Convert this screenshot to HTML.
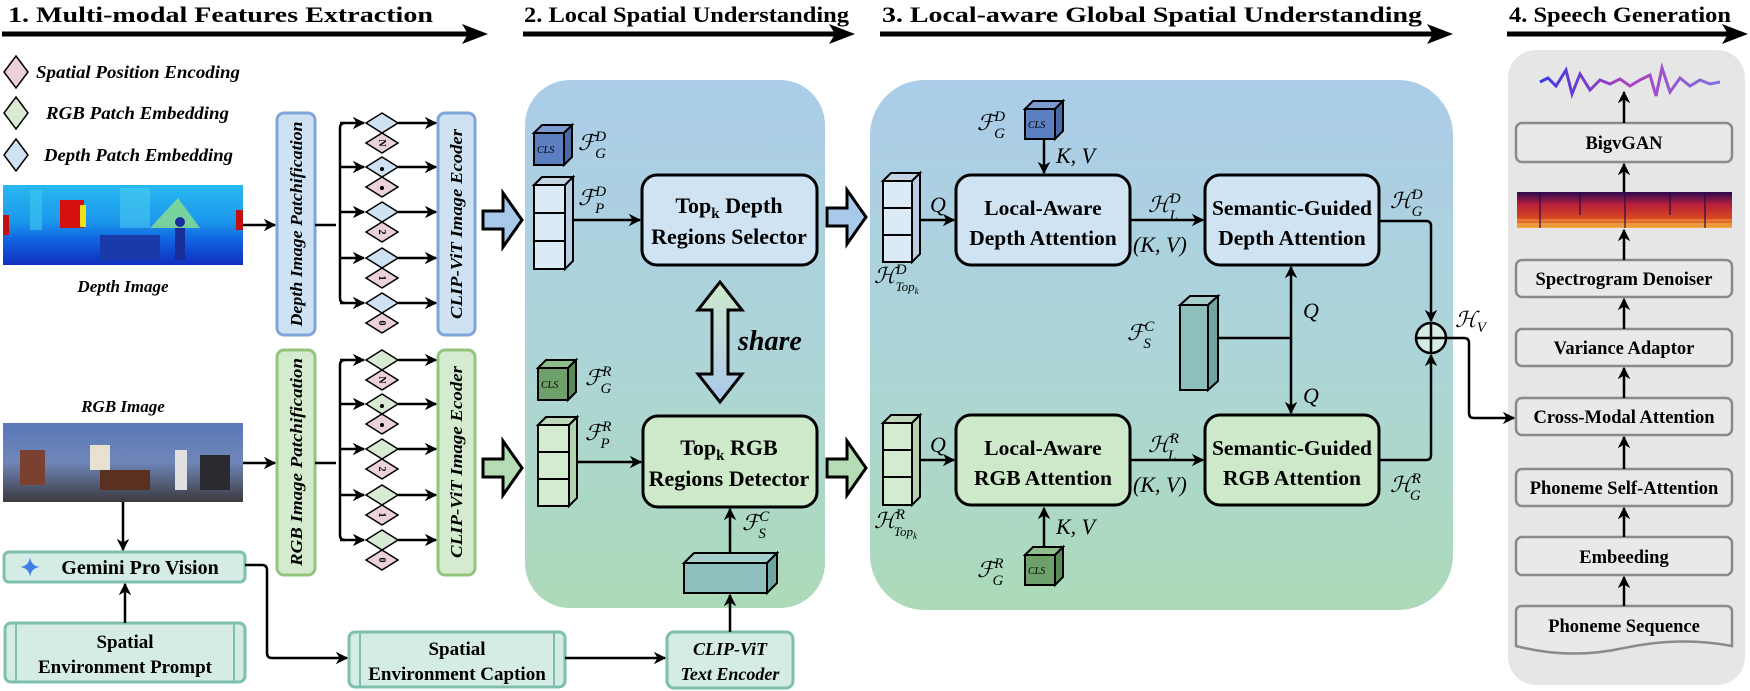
<!DOCTYPE html>
<html><head><meta charset="utf-8"><style>
html,body{margin:0;padding:0;background:#fff;}
svg{display:block;}
text{font-family:"Liberation Serif","DejaVu Serif",serif;}
.b{font-weight:bold;}
.m{font-style:italic;font-size:22px;}
</style></head><body>
<svg width="1750" height="691" viewBox="0 0 1750 691" xmlns="http://www.w3.org/2000/svg">
<defs>
<marker id="a" viewBox="0 0 10 10" refX="9" refY="5" markerWidth="5" markerHeight="5" orient="auto-start-reverse" markerUnits="strokeWidth"><path d="M0,0 L10,5 L0,10 L3,5 z" fill="#000"/></marker>
<linearGradient id="pg" x1="0" y1="0" x2="0" y2="1"><stop offset="0" stop-color="#abcde9"/><stop offset="0.55" stop-color="#add5d6"/><stop offset="1" stop-color="#acdab8"/></linearGradient>
<linearGradient id="sh" x1="0" y1="0" x2="0" y2="1"><stop offset="0" stop-color="#cfe9cc"/><stop offset="1" stop-color="#a9c9ea"/></linearGradient>
<linearGradient id="dep" x1="0" y1="0" x2="0" y2="1"><stop offset="0" stop-color="#28b8f0"/><stop offset="0.45" stop-color="#1c98ec"/><stop offset="0.7" stop-color="#1060e0"/><stop offset="1" stop-color="#1030c0"/></linearGradient>
<linearGradient id="rgb" x1="0" y1="0" x2="0" y2="1"><stop offset="0" stop-color="#5a78b8"/><stop offset="0.5" stop-color="#6f86b8"/><stop offset="1" stop-color="#3b3a3e"/></linearGradient>
<linearGradient id="spec" x1="0" y1="0" x2="0" y2="1"><stop offset="0" stop-color="#2a0a50"/><stop offset="0.35" stop-color="#b8203a"/><stop offset="0.75" stop-color="#d84a20"/><stop offset="1" stop-color="#f3b040"/></linearGradient>
<linearGradient id="wav" x1="0" y1="0" x2="1" y2="0"><stop offset="0" stop-color="#3a3ae0"/><stop offset="0.5" stop-color="#b040c0"/><stop offset="1" stop-color="#7a70e0"/></linearGradient>
</defs>

<!-- Panels (background) -->
<rect x="525" y="80" width="300" height="528" rx="45" fill="url(#pg)"/>
<rect x="870" y="80" width="583" height="530" rx="55" fill="url(#pg)"/>
<rect x="1508" y="50" width="237" height="635" rx="28" fill="#e6e6e6"/>

<!-- Headers -->
<g font-size="22" font-weight="bold">
<text x="8" y="22" textLength="425" lengthAdjust="spacingAndGlyphs">1. Multi-modal Features Extraction</text>
<text x="524" y="22" textLength="325" lengthAdjust="spacingAndGlyphs">2. Local Spatial Understanding</text>
<text x="882" y="22" textLength="540" lengthAdjust="spacingAndGlyphs">3. Local-aware Global Spatial Understanding</text>
<text x="1509" y="22" textLength="222" lengthAdjust="spacingAndGlyphs">4. Speech Generation</text>
</g>
<g stroke="#000" stroke-width="5" fill="none">
<line x1="2" y1="34" x2="470" y2="34"/><line x1="523" y1="34" x2="838" y2="34"/><line x1="880" y1="34" x2="1437" y2="34"/><line x1="1507" y1="34" x2="1732" y2="34"/>
</g>
<g fill="#000">
<path d="M488,34 L462,24 L468,34 L462,44z"/><path d="M855,34 L829,24 L835,34 L829,44z"/><path d="M1453,34 L1427,24 L1433,34 L1427,44z"/><path d="M1748,34 L1722,24 L1728,34 L1722,44z"/>
</g>

<!-- Legend -->
<g stroke="#000" stroke-width="1.5">
<path d="M16,56 L28,72 L16,88 L4,72z" fill="#ead1dc"/>
<path d="M16,97 L28,113 L16,129 L4,113z" fill="#d9ead3"/>
<path d="M16,139 L28,155 L16,171 L4,155z" fill="#cfe2f3"/>
</g>
<g font-style="italic" font-weight="bold" font-size="18">
<text x="36" y="78" textLength="204" lengthAdjust="spacingAndGlyphs">Spatial Position Encoding</text>
<text x="46" y="119" textLength="183" lengthAdjust="spacingAndGlyphs">RGB Patch Embedding</text>
<text x="44" y="161" textLength="189" lengthAdjust="spacingAndGlyphs">Depth Patch Embedding</text>
</g>

<!-- Depth image -->
<rect x="3" y="185" width="240" height="80" fill="url(#dep)"/>
<rect x="30" y="190" width="12" height="40" fill="#40c8f0" opacity="0.6"/><rect x="120" y="188" width="30" height="40" fill="#50d0f0" opacity="0.5"/>
<path d="M150,228 L178,198 L200,228z" fill="#8fe08a" opacity="0.8"/>
<rect x="60" y="200" width="24" height="28" fill="#d41010"/><rect x="80" y="205" width="6" height="22" fill="#f0e020"/>
<rect x="236" y="210" width="7" height="20" fill="#c21010"/><rect x="3" y="215" width="6" height="20" fill="#c21010"/>
<rect x="100" y="235" width="60" height="25" fill="#1a3aa8"/><circle cx="180" cy="222" r="5" fill="#1a2e9a"/><rect x="175" y="228" width="10" height="32" fill="#1a2e9a"/>
<text x="123" y="292" text-anchor="middle" font-style="italic" font-weight="bold" font-size="17">Depth Image</text>

<!-- RGB image -->
<text x="123" y="412" text-anchor="middle" font-style="italic" font-weight="bold" font-size="17">RGB Image</text>
<rect x="3" y="423" width="240" height="79" fill="url(#rgb)"/>
<rect x="20" y="450" width="25" height="35" fill="#7a4030"/><rect x="100" y="470" width="50" height="20" fill="#5a3020"/><rect x="90" y="445" width="20" height="25" fill="#e8e0d0"/><rect x="175" y="450" width="12" height="40" fill="#e0e0e0"/><rect x="200" y="455" width="30" height="35" fill="#2a2a30"/>

<!-- Patchification boxes -->
<rect x="277" y="113" width="38" height="222" rx="7" fill="#cfe2f3" stroke="#7ea6d8" stroke-width="3"/>
<rect x="438" y="113" width="37" height="222" rx="7" fill="#cfe2f3" stroke="#7ea6d8" stroke-width="3"/>
<rect x="277" y="350" width="38" height="225" rx="7" fill="#d5ebcf" stroke="#93c47d" stroke-width="3"/>
<rect x="438" y="350" width="37" height="225" rx="7" fill="#d5ebcf" stroke="#93c47d" stroke-width="3"/>
<g font-style="italic" font-weight="bold" font-size="17" text-anchor="middle">
<text transform="translate(302,224) rotate(-90)" textLength="205" lengthAdjust="spacingAndGlyphs">Depth Image Patchification</text>
<text transform="translate(462,224) rotate(-90)" textLength="190" lengthAdjust="spacingAndGlyphs">CLIP-ViT Image Ecoder</text>
<text transform="translate(302,462) rotate(-90)" textLength="208" lengthAdjust="spacingAndGlyphs">RGB Image Patchification</text>
<text transform="translate(462,462) rotate(-90)" textLength="192" lengthAdjust="spacingAndGlyphs">CLIP-ViT Image Ecoder</text>
</g>

<!-- Gemini & prompt -->
<rect x="4" y="552" width="241" height="30" rx="5" fill="#d4ece4" stroke="#7fbfb0" stroke-width="3"/>
<path d="M30,557 Q31,566 40,567 Q31,568 30,577 Q29,568 20,567 Q29,566 30,557z" fill="#3f7de8"/>
<text x="140" y="574" text-anchor="middle" font-weight="bold" font-size="20">Gemini Pro Vision</text>
<rect x="5" y="623" width="240" height="59" rx="6" fill="#d4ece4" stroke="#7fbfb0" stroke-width="3"/>
<line x1="16" y1="624" x2="16" y2="681" stroke="#7fbfb0" stroke-width="2"/><line x1="234" y1="624" x2="234" y2="681" stroke="#7fbfb0" stroke-width="2"/>
<text x="125" y="648" text-anchor="middle" font-weight="bold" font-size="19">Spatial</text>
<text x="125" y="673" text-anchor="middle" font-weight="bold" font-size="19">Environment Prompt</text>
<rect x="349" y="632" width="216" height="55" rx="6" fill="#d4ece4" stroke="#7fbfb0" stroke-width="3"/>
<line x1="360" y1="633" x2="360" y2="686" stroke="#7fbfb0" stroke-width="2"/><line x1="554" y1="633" x2="554" y2="686" stroke="#7fbfb0" stroke-width="2"/>
<text x="457" y="655" text-anchor="middle" font-weight="bold" font-size="19">Spatial</text>
<text x="457" y="680" text-anchor="middle" font-weight="bold" font-size="19">Environment Caption</text>

<!-- Text encoder -->
<rect x="667" y="632" width="126" height="56" rx="7" fill="#d4ece4" stroke="#7fbfb0" stroke-width="3"/>
<text x="730" y="655" text-anchor="middle" font-style="italic" font-weight="bold" font-size="18">CLIP-ViT</text>
<text x="730" y="680" text-anchor="middle" font-style="italic" font-weight="bold" font-size="18">Text Encoder</text>

<!-- Arrows -->
<g stroke="#000" stroke-width="2.5" fill="none" marker-end="url(#a)">
<line x1="243" y1="225" x2="275" y2="225"/>
<line x1="243" y1="463" x2="275" y2="463"/>
<line x1="123" y1="502" x2="123" y2="550"/>
<line x1="125" y1="623" x2="125" y2="584"/>
<path d="M245,565 H262 Q267,565 267,570 V653 Q267,658 272,658 H347"/>
<line x1="565" y1="658" x2="665" y2="658"/>
<line x1="730" y1="632" x2="730" y2="595"/>
<line x1="730" y1="553" x2="730" y2="509"/>
</g>

<!-- Branches -->
<g stroke="#000" stroke-width="2.5" fill="none">
<path d="M315,225 H336 M340,128 Q340,123 345,123 M340,128 V298 Q340,303 345,303"/>
<path d="M315,463 H336 M340,365 Q340,360 345,360 M340,365 V535 Q340,540 345,540"/>
</g>
<g stroke="#000" stroke-width="2.5" marker-end="url(#a)">
<line x1="340" y1="123" x2="364" y2="123"/><line x1="340" y1="167" x2="364" y2="167"/><line x1="340" y1="212" x2="364" y2="212"/><line x1="340" y1="258" x2="364" y2="258"/><line x1="340" y1="303" x2="364" y2="303"/>
<line x1="398" y1="123" x2="436" y2="123"/><line x1="398" y1="167" x2="436" y2="167"/><line x1="398" y1="212" x2="436" y2="212"/><line x1="398" y1="258" x2="436" y2="258"/><line x1="398" y1="303" x2="436" y2="303"/>
<line x1="340" y1="360" x2="364" y2="360"/><line x1="340" y1="404" x2="364" y2="404"/><line x1="340" y1="449" x2="364" y2="449"/><line x1="340" y1="495" x2="364" y2="495"/><line x1="340" y1="540" x2="364" y2="540"/>
<line x1="398" y1="360" x2="436" y2="360"/><line x1="398" y1="404" x2="436" y2="404"/><line x1="398" y1="449" x2="436" y2="449"/><line x1="398" y1="495" x2="436" y2="495"/><line x1="398" y1="540" x2="436" y2="540"/>
</g>
<g stroke="#000" stroke-width="1.5">
<g fill="#cfe2f3">
<path d="M366,123 L382,113 L398,123 L382,133z"/><path d="M366,167 L382,157 L398,167 L382,177z"/><path d="M366,212 L382,202 L398,212 L382,222z"/><path d="M366,258 L382,248 L398,258 L382,268z"/><path d="M366,303 L382,293 L398,303 L382,313z"/>
</g>
<g fill="#d9ead3">
<path d="M366,360 L382,350 L398,360 L382,370z"/><path d="M366,404 L382,394 L398,404 L382,414z"/><path d="M366,449 L382,439 L398,449 L382,459z"/><path d="M366,495 L382,485 L398,495 L382,505z"/><path d="M366,540 L382,530 L398,540 L382,550z"/>
</g>
<g fill="#ead1dc">
<path d="M366,143 L382,133 L398,143 L382,153z"/><path d="M366,187 L382,177 L398,187 L382,197z"/><path d="M366,232 L382,222 L398,232 L382,242z"/><path d="M366,278 L382,268 L398,278 L382,288z"/><path d="M366,323 L382,313 L398,323 L382,333z"/>
<path d="M366,380 L382,370 L398,380 L382,390z"/><path d="M366,424 L382,414 L398,424 L382,434z"/><path d="M366,469 L382,459 L398,469 L382,479z"/><path d="M366,515 L382,505 L398,515 L382,525z"/><path d="M366,560 L382,550 L398,560 L382,570z"/>
</g>
</g>
<g font-size="10" font-weight="bold" text-anchor="middle">
<text transform="translate(379,143) rotate(90)">N</text><circle cx="382" cy="169" r="2"/><circle cx="382" cy="188" r="2"/><text transform="translate(379,232) rotate(90)">2</text><text transform="translate(379,278) rotate(90)">1</text><text transform="translate(379,323) rotate(90)">0</text>
<text transform="translate(379,380) rotate(90)">N</text><circle cx="382" cy="406" r="2"/><circle cx="382" cy="425" r="2"/><text transform="translate(379,469) rotate(90)">2</text><text transform="translate(379,515) rotate(90)">1</text><text transform="translate(379,560) rotate(90)">0</text>
</g>

<!-- hollow arrows -->
<g stroke="#000" stroke-width="3">
<path d="M483,211 H503 V193 L522,220 L503,247 V229 H483z" fill="#a9c9ea"/>
<path d="M483,459 H503 V441 L522,468 L503,495 V477 H483z" fill="#b5dcb5"/>
<path d="M827,208 H847 V190 L866,217 L847,244 V226 H827z" fill="#a9c9ea"/>
<path d="M827,459 H847 V441 L866,468 L847,495 V477 H827z" fill="#b5dcb5"/>
<path d="M720,282 L742,310 H728 V374 H742 L720,402 L698,374 H712 V310 H698z" fill="url(#sh)"/>
</g>
<text x="738" y="350" font-style="italic" font-weight="bold" font-size="28">share</text>

<!-- cubes panel 2 -->
<g stroke="#000" stroke-width="2">
<g fill="#5b7fc0"><rect x="534" y="133" width="30" height="32"/><path d="M534,133 L542,125 L572,125 L564,133z" fill="#7d9bd0"/><path d="M564,133 L572,125 L572,157 L564,165z" fill="#4a6aa8"/></g>
<g fill="#6ea06a"><rect x="538" y="368" width="30" height="32"/><path d="M538,368 L546,360 L576,360 L568,368z" fill="#8ebc8a"/><path d="M568,368 L576,360 L576,392 L568,400z" fill="#5a8a58"/></g>
<g fill="#dceaf6"><rect x="534" y="185" width="31" height="28"/><rect x="534" y="213" width="31" height="28"/><rect x="534" y="241" width="31" height="28"/><path d="M534,185 L542,177 L573,177 L565,185z" fill="#c6d4e2"/><path d="M565,185 L573,177 L573,261 L565,269z" fill="#b8cde2"/></g>
<g fill="#d3ecd0"><rect x="538" y="425" width="31" height="27"/><rect x="538" y="452" width="31" height="27"/><rect x="538" y="479" width="31" height="27"/><path d="M538,425 L546,417 L577,417 L569,425z" fill="#bfd8bc"/><path d="M569,425 L577,417 L577,498 L569,506z" fill="#b3d0b0"/></g>
<g fill="#8ebfbc"><rect x="684" y="563" width="83" height="30"/><path d="M684,563 L694,553 L777,553 L767,563z" fill="#a6cfcb"/><path d="M767,563 L777,553 L777,583 L767,593z" fill="#6fa6a2"/></g>
</g>
<text x="537" y="153" font-size="10" font-style="italic">CLS</text>
<text x="541" y="388" font-size="10" font-style="italic">CLS</text>

<g class="m">
<text x="578" y="150">ℱ<tspan font-size="15" dy="-9">D</tspan><tspan font-size="15" dx="-11" dy="17">G</tspan></text>
<text x="578" y="205">ℱ<tspan font-size="15" dy="-9">D</tspan><tspan font-size="15" dx="-11" dy="17">P</tspan></text>
<text x="585" y="385">ℱ<tspan font-size="15" dy="-9">R</tspan><tspan font-size="15" dx="-11" dy="17">G</tspan></text>
<text x="585" y="440">ℱ<tspan font-size="15" dy="-9">R</tspan><tspan font-size="15" dx="-11" dy="17">P</tspan></text>
<text x="742" y="530">ℱ<tspan font-size="15" dy="-9">C</tspan><tspan font-size="15" dx="-11" dy="17">S</tspan></text>
</g>
<g stroke="#000" stroke-width="2.5" marker-end="url(#a)">
<line x1="573" y1="220" x2="640" y2="220"/>
<line x1="577" y1="462" x2="641" y2="462"/>
</g>
<rect x="642" y="175" width="175" height="90" rx="15" fill="#cfe3f3" stroke="#000" stroke-width="3"/>
<rect x="643" y="416" width="174" height="91" rx="15" fill="#cde9c9" stroke="#000" stroke-width="3"/>
<g font-size="22" text-anchor="middle" font-weight="bold">
<text x="729" y="213">Top<tspan font-size="15" dy="5">k</tspan><tspan dy="-5"> Depth</tspan></text>
<text x="729" y="244">Regions Selector</text>
<text x="729" y="455">Top<tspan font-size="15" dy="5">k</tspan><tspan dy="-5"> RGB</tspan></text>
<text x="729" y="486">Regions Detector</text>
</g>

<!-- Panel 3 content -->
<g stroke="#000" stroke-width="2">
<g fill="#dceaf6"><rect x="883" y="181" width="29" height="27"/><rect x="883" y="208" width="29" height="27"/><rect x="883" y="235" width="29" height="27"/><path d="M883,181 L891,173 L920,173 L912,181z" fill="#c6d4e2"/><path d="M912,181 L920,173 L920,254 L912,262z" fill="#b8cde2"/></g>
<g fill="#d3ecd0"><rect x="883" y="423" width="29" height="27"/><rect x="883" y="450" width="29" height="27"/><rect x="883" y="477" width="29" height="28"/><path d="M883,423 L891,415 L920,415 L912,423z" fill="#bfd8bc"/><path d="M912,423 L920,415 L920,497 L912,505z" fill="#b3d0b0"/></g>
<g fill="#5b7fc0"><rect x="1025" y="109" width="30" height="30"/><path d="M1025,109 L1033,101 L1063,101 L1055,109z" fill="#7d9bd0"/><path d="M1055,109 L1063,101 L1063,131 L1055,139z" fill="#4a6aa8"/></g>
<g fill="#6ea06a"><rect x="1025" y="555" width="30" height="30"/><path d="M1025,555 L1033,547 L1063,547 L1055,555z" fill="#8ebc8a"/><path d="M1055,555 L1063,547 L1063,577 L1055,585z" fill="#5a8a58"/></g>
<g fill="#8ebfbc"><rect x="1180" y="305" width="28" height="85"/><path d="M1180,305 L1190,296 L1218,296 L1208,305z" fill="#a6cfcb"/><path d="M1208,305 L1218,296 L1218,381 L1208,390z" fill="#6fa6a2"/></g>
</g>
<text x="1028" y="128" font-size="10" font-style="italic">CLS</text>
<text x="1028" y="574" font-size="10" font-style="italic">CLS</text>

<g stroke="#000" stroke-width="2.5" fill="none" marker-end="url(#a)">
<line x1="920" y1="220" x2="954" y2="220"/>
<line x1="920" y1="460" x2="954" y2="460"/>
<line x1="1044" y1="140" x2="1044" y2="173"/>
<line x1="1044" y1="547" x2="1044" y2="508"/>
<line x1="1130" y1="220" x2="1203" y2="220"/>
<line x1="1130" y1="460" x2="1203" y2="460"/>
<path d="M1218,338 H1291 V267"/>
<path d="M1291,338 V413"/>
<path d="M1379,221 H1426 Q1431,221 1431,226 V321"/>
<path d="M1379,460 H1426 Q1431,460 1431,455 V355"/>
<path d="M1446,338 H1464 Q1469,338 1469,343 V413 Q1469,418 1474,418 H1514"/>
</g>
<circle cx="1431" cy="338" r="15" fill="#d4ece4" stroke="#000" stroke-width="2.5"/>
<line x1="1416" y1="338" x2="1446" y2="338" stroke="#000" stroke-width="2.5"/><line x1="1431" y1="323" x2="1431" y2="353" stroke="#000" stroke-width="2.5"/>

<rect x="956" y="175" width="174" height="90" rx="15" fill="#cfe3f3" stroke="#000" stroke-width="3"/>
<rect x="1205" y="175" width="174" height="90" rx="15" fill="#cfe3f3" stroke="#000" stroke-width="3"/>
<rect x="956" y="415" width="174" height="90" rx="15" fill="#cde9c9" stroke="#000" stroke-width="3"/>
<rect x="1205" y="415" width="174" height="90" rx="15" fill="#cde9c9" stroke="#000" stroke-width="3"/>
<g font-size="21.5" text-anchor="middle" font-weight="bold">
<text x="1043" y="215">Local-Aware</text><text x="1043" y="245">Depth  Attention</text>
<text x="1292" y="215">Semantic-Guided</text><text x="1292" y="245">Depth Attention</text>
<text x="1043" y="455">Local-Aware</text><text x="1043" y="485">RGB Attention</text>
<text x="1292" y="455">Semantic-Guided</text><text x="1292" y="485">RGB Attention</text>
</g>
<g class="m">
<text x="930" y="212">Q</text><text x="930" y="452">Q</text>
<text x="1056" y="163">K, V</text><text x="1056" y="534">K, V</text>
<text x="1133" y="252">(K, V)</text><text x="1133" y="492">(K, V)</text>
<text x="1303" y="318">Q</text><text x="1303" y="403">Q</text>
<text x="977" y="130">ℱ<tspan font-size="15" dy="-9">D</tspan><tspan font-size="15" dx="-11" dy="17">G</tspan></text>
<text x="977" y="577">ℱ<tspan font-size="15" dy="-9">R</tspan><tspan font-size="15" dx="-11" dy="17">G</tspan></text>
<text x="1127" y="340">ℱ<tspan font-size="15" dy="-9">C</tspan><tspan font-size="15" dx="-11" dy="17">S</tspan></text>
<text x="1148" y="212">ℋ<tspan font-size="15" dy="-9">D</tspan><tspan font-size="15" dx="-11" dy="17">L</tspan></text>
<text x="1148" y="452">ℋ<tspan font-size="15" dy="-9">R</tspan><tspan font-size="15" dx="-11" dy="17">L</tspan></text>
<text x="1390" y="208">ℋ<tspan font-size="15" dy="-9">D</tspan><tspan font-size="15" dx="-11" dy="17">G</tspan></text>
<text x="1390" y="492">ℋ<tspan font-size="15" dy="-9">R</tspan><tspan font-size="15" dx="-11" dy="17">G</tspan></text>
<text x="1455" y="327">ℋ<tspan font-size="15" dy="5">V</tspan></text>
<text x="874" y="283">ℋ<tspan font-size="15" dy="-9">D</tspan><tspan font-size="13" dx="-11" dy="17">Top<tspan font-size="9" dy="3">k</tspan></tspan></text>
<text x="874" y="528">ℋ<tspan font-size="15" dy="-9">R</tspan><tspan font-size="13" dx="-11" dy="17">Top<tspan font-size="9" dy="3">k</tspan></tspan></text>
</g>

<!-- Panel 4 -->
<g>
<line x1="1522" y1="82" x2="1728" y2="82" stroke="url(#wav)" stroke-width="2"/>
<path d="M1540,82 L1548,78 L1556,86 L1566,70 L1572,94 L1580,74 L1590,90 L1600,80 L1610,84 L1620,79 L1630,86 L1640,80 L1650,75 L1656,96 L1662,68 L1670,92 L1680,78 L1690,86 L1700,80 L1710,84 L1720,82" stroke="url(#wav)" stroke-width="3" fill="none"/>
<rect x="1517" y="192" width="215" height="36" fill="url(#spec)"/>
<g stroke="#f4c060" stroke-width="1" opacity="0.7"><line x1="1517" y1="220" x2="1732" y2="220"/><line x1="1517" y1="224" x2="1732" y2="224"/></g>
<g stroke="#2a0a50" stroke-width="2" opacity="0.6"><line x1="1540" y1="192" x2="1540" y2="228"/><line x1="1580" y1="192" x2="1580" y2="215"/><line x1="1625" y1="192" x2="1625" y2="228"/><line x1="1670" y1="192" x2="1670" y2="215"/><line x1="1705" y1="192" x2="1705" y2="228"/></g>
</g>
<g fill="#e9e9e9" stroke="#8a8a8a" stroke-width="2.5">
<rect x="1516" y="123" width="216" height="39" rx="6"/>
<rect x="1516" y="260" width="216" height="37" rx="6"/>
<rect x="1516" y="329" width="216" height="37" rx="6"/>
<rect x="1516" y="398" width="216" height="37" rx="6"/>
<rect x="1516" y="469" width="216" height="37" rx="6"/>
<rect x="1516" y="537" width="216" height="38" rx="6"/>
<path d="M1516,612 Q1516,606 1522,606 H1726 Q1732,606 1732,612 V646 Q1680,636 1624,648 Q1570,660 1516,646z"/>
</g>
<g font-size="18.5" text-anchor="middle" font-weight="bold">
<text x="1624" y="149">BigvGAN</text>
<text x="1624" y="285">Spectrogram Denoiser</text>
<text x="1624" y="354">Variance Adaptor</text>
<text x="1624" y="423">Cross-Modal Attention</text>
<text x="1624" y="494">Phoneme Self-Attention</text>
<text x="1624" y="563">Embeeding</text>
<text x="1624" y="632">Phoneme Sequence</text>
</g>
<g stroke="#000" stroke-width="2.5" marker-end="url(#a)">
<line x1="1624" y1="123" x2="1624" y2="92"/>
<line x1="1624" y1="192" x2="1624" y2="164"/>
<line x1="1624" y1="260" x2="1624" y2="230"/>
<line x1="1624" y1="329" x2="1624" y2="299"/>
<line x1="1624" y1="398" x2="1624" y2="368"/>
<line x1="1624" y1="469" x2="1624" y2="437"/>
<line x1="1624" y1="537" x2="1624" y2="508"/>
<line x1="1624" y1="606" x2="1624" y2="577"/>
</g>
</svg>
</body></html>
